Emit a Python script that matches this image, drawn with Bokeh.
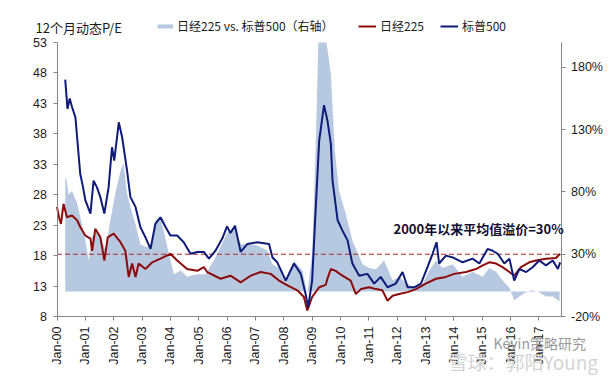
import pandas as pd
from bokeh.plotting import figure
from bokeh.models import (Range1d, LinearAxis, FixedTicker, DatetimeTickFormatter,
                          PrintfTickFormatter, Label, Legend, LegendItem)
from bokeh.embed import file_html
from bokeh.resources import INLINE

# ---------------- data (time in years since Jan-2000) ----------------
sp_t = [0.29, 0.37, 0.45, 0.53, 0.65, 0.71, 0.82, 0.92, 1.00, 1.18, 1.29, 1.41, 1.53, 1.67,
        1.82, 1.94, 2.02, 2.18, 2.30, 2.47, 2.59, 2.77, 2.94, 3.12, 3.30, 3.47, 3.65, 3.83,
        4.00, 4.24, 4.47, 4.71, 4.95, 5.18, 5.36, 5.59, 5.83, 6.00, 6.12, 6.28, 6.48, 6.71,
        7.07, 7.48, 7.60, 7.77, 8.07, 8.36, 8.60, 8.77, 8.86, 9.00, 9.13, 9.25, 9.42, 9.54,
        9.66, 9.72, 9.90, 10.07, 10.25, 10.42, 10.66, 10.95, 11.19, 11.42, 11.66, 11.95,
        12.19, 12.37, 12.60, 12.84, 13.07, 13.25, 13.39, 13.48, 13.72, 13.96, 14.31, 14.66,
        14.90, 15.19, 15.37, 15.55, 15.78, 15.96, 16.13, 16.31, 16.55, 16.78, 17.01, 17.25,
        17.49, 17.67, 17.75]
sp_pe = [46.9, 42.1, 43.8, 42.4, 40.7, 37.4, 31.4, 29.2, 27.1, 24.9, 30.3, 29.2, 27.6, 24.9,
         29.2, 35.8, 33.6, 39.9, 37.4, 32.0, 27.6, 26.0, 22.7, 21.0, 19.1, 23.2, 24.3, 22.7,
         21.3, 21.3, 20.2, 18.3, 18.6, 18.6, 17.5, 18.8, 20.8, 22.8, 21.7, 22.9, 18.6, 19.9,
         20.2, 19.9, 17.7, 16.9, 13.9, 16.7, 15.0, 11.7, 9.5, 13.9, 26.0, 36.9, 42.7, 40.2,
         36.4, 30.3, 23.8, 22.1, 20.5, 16.7, 14.7, 15.0, 13.4, 14.5, 12.8, 13.4,
         15.3, 12.8, 12.8, 13.4, 16.1, 18.3, 20.2, 16.7, 18.0, 17.7, 16.9, 17.5,
         16.7, 19.1, 18.8, 18.3, 16.7, 17.5, 13.9, 15.8, 15.3, 16.1, 17.2, 16.4,
         17.2, 15.8, 16.9]

nk_t = [0.00, 0.07, 0.14, 0.23, 0.35, 0.53, 0.71, 0.82, 1.00, 1.18, 1.24, 1.35, 1.53, 1.67,
        1.79, 2.00, 2.24, 2.41, 2.53, 2.65, 2.77, 2.88, 3.12, 3.36, 3.65, 4.00, 4.24, 4.59,
        4.95, 5.18, 5.30, 5.77, 6.12, 6.48, 6.83, 7.18, 7.54, 7.83, 8.13, 8.48, 8.71, 8.83,
        9.00, 9.25, 9.48, 9.54, 9.66, 9.83, 10.07, 10.36, 10.54, 10.72, 11.01, 11.25, 11.48,
        11.66, 11.84, 12.07, 12.37, 12.66, 13.01, 13.37, 13.72, 14.01, 14.43, 14.78, 15.02,
        15.25, 15.49, 15.72, 15.96, 16.13, 16.37, 16.66, 16.90, 17.25, 17.60, 17.75]
nk_pe = [26.0, 24.3, 23.2, 26.5, 24.3, 24.6, 23.8, 22.7, 21.3, 20.8, 18.8, 22.4, 21.0, 17.2,
         21.0, 21.6, 20.2, 18.8, 14.5, 16.7, 14.5, 16.7, 15.8, 16.9, 17.5, 18.3, 17.2, 15.8,
         15.5, 16.1, 15.3, 14.2, 14.7, 13.6, 14.7, 15.3, 15.0, 13.9, 13.1, 12.3, 11.2, 9.0,
         11.2, 12.8, 13.2, 14.2, 15.8, 15.5, 14.7, 13.9, 11.7, 12.5, 12.8, 12.5, 12.3,
         10.6, 11.4, 11.7, 12.0, 12.5, 13.4, 14.2, 14.5, 15.0, 15.3, 15.8, 16.4,
         16.9, 16.7, 16.1, 15.3, 14.7, 16.1, 16.9, 17.2, 17.5, 17.6, 18.3]

pr_t = [0.29, 0.32, 0.41, 0.53, 0.71, 0.88, 1.00, 1.12, 1.24, 1.41, 1.59, 1.71, 1.88, 2.06,
        2.24, 2.35, 2.47, 2.59, 2.77, 2.94, 3.12, 3.30, 3.47, 3.65, 3.89, 4.12, 4.36, 4.59,
        4.95, 5.24, 5.53, 5.77, 6.00, 6.24, 6.48, 6.77, 7.07, 7.42, 7.60, 7.83, 8.07, 8.36,
        8.66, 8.83, 9.00, 9.13, 9.22, 9.36, 9.50, 9.57, 9.66, 9.80, 9.95, 10.19, 10.42, 10.78,
        11.01, 11.25, 11.54, 11.84, 12.07, 12.31, 12.60, 12.90, 13.13, 13.37, 13.60, 13.96,
        14.31, 14.66, 15.02, 15.25, 15.49, 15.72, 15.96, 16.13, 16.43, 16.72, 16.96, 17.25,
        17.49, 17.73]
pr_pct = [90, 92, 78, 81, 71, 54, 41, 25, 44, 49, 41, 33, 57, 79,
          97, 103, 79, 68, 54, 38, 36, 36, 57, 60, 36, 14, 17, 12,
          14, 14, 25, 36, 47, 52, 38, 38, 37, 33, 22, 19, 9, 25,
          17, -2, 30, 120, 200, 200, 200, 190, 175, 113, 81, 62, 41, 22,
          19, 18, 25, 9, 12, 7, 3, 6, 17, 25, 19, 22,
          12, 16, 12, 19, 16, 9, 3, -7, -2, 1, 0, -4,
          -4, -8]

left_ticks = [8, 13, 18, 23, 28, 33, 38, 43, 48, 53]
right_ticks = [-20, 30, 80, 130, 180]
left_bounds = (8, 53)
right_bounds = (-20, 200)
avg_premium = 30
years = list(range(2000, 2018))
t_axis_end = 17.78

# ---------------- helpers ----------------
BASE = pd.Timestamp("2000-01-01")


def to_dates(ts):
    return [BASE + pd.Timedelta(days=float(t) * 365.25) for t in ts]


def ms(ts):
    return ts.value / 1e6


NAVY = "#101a78"
RED = "#8c0a0a"
AREA = "#b6c9e1"
AXIS = "#868686"
TXT = "#1a1a1a"
LAT = "Liberation Sans"
CJK = "Noto Sans CJK SC"

W, H = 613, 377
# plot-area box inside the canvas (pixels)
FX0, FX1, FY0, FY1 = 56.5, 560.5, 42.0, 316.0  # left, right, top, bottom

x_start = BASE
x_end = to_dates([t_axis_end])[0]
xs, xe = ms(x_start), ms(x_end)
xpx = (xe - xs) / (FX1 - FX0)
x_range = Range1d(xs - FX0 * xpx, xe + (W - FX1) * xpx)


def ext(lo, hi):
    k = (hi - lo) / (FY1 - FY0)
    return Range1d(lo - (H - FY1) * k, hi + FY0 * k)


p = figure(width=W, height=H, x_axis_type="datetime",
           x_range=x_range, y_range=ext(*left_bounds),
           output_backend="svg", toolbar_location=None, title=None,
           min_border=0, min_border_left=0, min_border_right=0,
           min_border_top=0, min_border_bottom=0)
p.extra_y_ranges = {"pct": ext(*right_bounds)}
p.outline_line_color = None
p.background_fill_color = "white"
p.border_fill_color = "white"
p.xgrid.visible = False
p.ygrid.visible = False

# premium area (right axis)
area_r = p.varea(x=to_dates(pr_t), y1=0, y2=pr_pct, y_range_name="pct",
                 fill_color=AREA, fill_alpha=1.0)

# average premium reference line across the time axis
p.line(x=[x_start, x_end], y=[avg_premium, avg_premium], y_range_name="pct",
       line_color="#a8262b", line_dash="5 3", line_width=1)

nk_r = p.line(x=to_dates(nk_t), y=nk_pe, line_color=RED, line_width=2)
sp_r = p.line(x=to_dates(sp_t), y=sp_pe, line_color=NAVY, line_width=2)

# legend proxy for the area swatch (thin bar); its single point is NaN so nothing is drawn
proxy = p.line(x=[x_start], y=[float("nan")], line_color=AREA, line_width=4)

# ---------------- axes ----------------
xa = p.xaxis[0]
xa.ticker = FixedTicker(ticks=[ms(pd.Timestamp(f"{y}-01-01")) for y in years])
fmt = "%b-%y"
xa.formatter = DatetimeTickFormatter(years=fmt, months=fmt, days=fmt, hours=fmt,
                                     hourmin=fmt, minutes=fmt, minsec=fmt,
                                     seconds=fmt, milliseconds=fmt, microseconds=fmt)
xa.major_label_orientation = 1.5707963
xa.fixed_location = left_bounds[0]
xa.bounds = (xs, xe)

ya = p.yaxis[0]
ya.ticker = FixedTicker(ticks=left_ticks)
ya.fixed_location = xs
ya.bounds = left_bounds

ra = LinearAxis(y_range_name="pct", ticker=FixedTicker(ticks=right_ticks),
                formatter=PrintfTickFormatter(format="%d%%"))
ra.fixed_location = xe
ra.bounds = right_bounds
p.add_layout(ra, "right")

for ax in (xa, ya, ra):
    ax.axis_line_color = AXIS
    ax.major_tick_line_color = AXIS
    ax.major_tick_out = 4
    ax.major_tick_in = 0
    ax.minor_tick_line_color = None
    ax.major_label_text_font = LAT
    ax.major_label_text_font_size = "12.5px"
    ax.major_label_text_color = TXT
    ax.major_label_standoff = 6

# ---------------- texts & legend ----------------
p.add_layout(Label(x=35, y=H - 27, x_units="screen", y_units="screen", text="12个月动态P/E",
                   text_font=CJK, text_font_size="13px", text_color=TXT,
                   text_baseline="middle", text_align="left"))


def add_legend(label, renderer, x, gw):
    lg = Legend(items=[LegendItem(label=label, renderers=[renderer])], location=(x, H - 34),
                orientation="horizontal", glyph_width=gw, glyph_height=14, label_height=14,
                label_standoff=4, padding=0, margin=0, spacing=0,
                border_line_color=None, background_fill_alpha=0,
                label_text_font=CJK, label_text_font_size="12px", label_text_color=TXT)
    p.add_layout(lg)


add_legend("日经225 vs. 标普500（右轴）", proxy, 157, 16)
add_legend("日经225", nk_r, 358, 18)
add_legend("标普500", sp_r, 440, 18)

p.add_layout(Label(x=393, y=H - 228, x_units="screen", y_units="screen",
                   text="2000年以来平均值溢价=30%", text_font=CJK, text_font_size="13px",
                   text_font_style="bold", text_color="#101030",
                   text_baseline="middle", text_align="left"))

# watermark
p.add_layout(Label(x=493, y=H - 342, x_units="screen", y_units="screen", text="Kevin策略研究",
                   text_font=CJK, text_font_size="14px", text_color="#9a9a9a",
                   text_baseline="middle", text_align="left"))
p.add_layout(Label(x=448, y=H - 361, x_units="screen", y_units="screen", text="雪球：郭阳Young",
                   text_font=CJK, text_font_size="19px", text_color="#d4d4d4",
                   text_baseline="middle", text_align="left"))

open("out.html", "w").write(file_html(p, INLINE))
